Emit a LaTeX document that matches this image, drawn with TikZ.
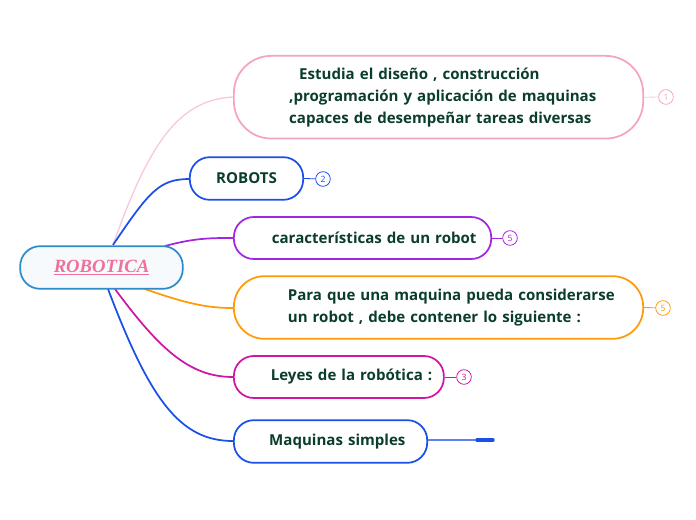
\documentclass[tikz,border=0pt]{standalone}
\usepackage{fontspec}
\setmainfont{Open Sans}
\newfontfamily\rootfont{Liberation Serif}
\begin{document}
\begin{tikzpicture}[x=0.75pt,y=-0.75pt,
  box/.style={draw,line width=1.3pt,rounded corners=15pt,fill=white,text=txt,font=\fontsize{11.3}{16.5}\selectfont\bfseries,inner sep=0pt,align=left},
  num/.style={draw,circle,line width=0.6pt,minimum size=11pt,inner sep=0pt,font=\fontsize{6.5}{7}\selectfont},
  conn/.style={line width=1.3pt}]
\definecolor{txt}{HTML}{0B3D2E}
\definecolor{cpink}{HTML}{F5A3C0}
\definecolor{cblue}{HTML}{1A4FE8}
\definecolor{cpurp}{HTML}{A424E4}
\definecolor{corg}{HTML}{FF9A0A}
\definecolor{cmag}{HTML}{D014A4}
\definecolor{croot}{HTML}{2E8BC9}
\definecolor{rtext}{HTML}{F0709A}
\useasboundingbox (0,0) rectangle (696,520);
% connectors
\draw[conn,cpink!60,line width=1pt] (113,245) .. controls (150,140) and (180,100) .. (233,97);
\draw[conn,cblue] (113,245) .. controls (150,190) and (160,179) .. (190,179);
\draw[conn,cpurp] (165,246) .. controls (195,238) and (210,238) .. (233,238);
\draw[conn,corg] (145,289) .. controls (190,305) and (210,308) .. (233,308);
\draw[conn,cmag] (115,289) .. controls (160,350) and (190,377) .. (233,377);
\draw[conn,cblue] (108,289) .. controls (150,400) and (180,441) .. (233,441);
% nodes
\node[box,draw=croot,fill=croot!4,minimum width=122pt,minimum height=32pt,align=center,text=rtext,font=\rootfont\fontsize{14}{16}\selectfont\bfseries\itshape] (root) at (101.5,267.5) {\underline{ROBOTICA}};
\node[box,draw=cpink,rounded corners=28pt,minimum width=307pt,minimum height=62pt,anchor=north west,text width=280pt] (b1) at (233,55) {\hspace*{28pt}\ \ Estudia el diseño , construcción\\\hspace*{28pt},programación y aplicación de maquinas\\\hspace*{28pt}capaces de desempeñar tareas diversas};
\node[box,draw=cblue,minimum width=85pt,minimum height=32pt,align=center] (b2) at (246.5,178.5) {ROBOTS};
\node[box,draw=cpurp,minimum width=193pt,minimum height=31.5pt,anchor=west,text width=174pt] (b3) at (233,238) {\hspace*{19pt}características de un robot};
\node[box,draw=corg,rounded corners=23pt,minimum width=307pt,minimum height=47pt,anchor=west,text width=280pt] (b4) at (233,307.5) {\hspace*{27pt}Para que una maquina pueda considerarse\\\hspace*{27pt}un robot , debe contener lo siguiente :};
\node[box,draw=cmag,minimum width=157.5pt,minimum height=31.5pt,anchor=west,text width=140pt] (b5) at (233,377) {\hspace*{19pt}Leyes de la robótica :};
\node[box,draw=cblue,minimum width=145pt,minimum height=32pt,anchor=west,text width=130pt] (b6) at (233,441.5) {\hspace*{19pt}Maquinas simples};
% numbered circles
\node[num,draw=cpink,text=cpink] (n1) at (666,97) {1};
\node[num,draw=cblue,text=cblue] (n2) at (323,179) {2};
\node[num,draw=cpurp,text=cpurp] (n3) at (510,238) {5};
\node[num,draw=corg,text=corg] (n4) at (663,308) {5};
\node[num,draw=cmag,text=cmag] (n5) at (464,377) {3};
\draw[cpink!60,line width=0.6pt] (b1.east) -- (n1);
\draw[cblue,line width=0.6pt] (b2.east) -- (n2);
\draw[cpurp,line width=0.6pt] (b3.east) -- (n3);
\draw[corg,line width=0.6pt] (b4.east) -- (n4);
\draw[cmag,line width=0.6pt] (b5.east) -- (n5);
\coordinate (e) at (493,440);
\coordinate (m) at (477,440);
\draw[cblue!70,line width=0.8pt] (b6.east |- m) -- (m);
\draw[cblue,line width=2.5pt,line cap=round] (m) -- (e);
\end{tikzpicture}
\end{document}
